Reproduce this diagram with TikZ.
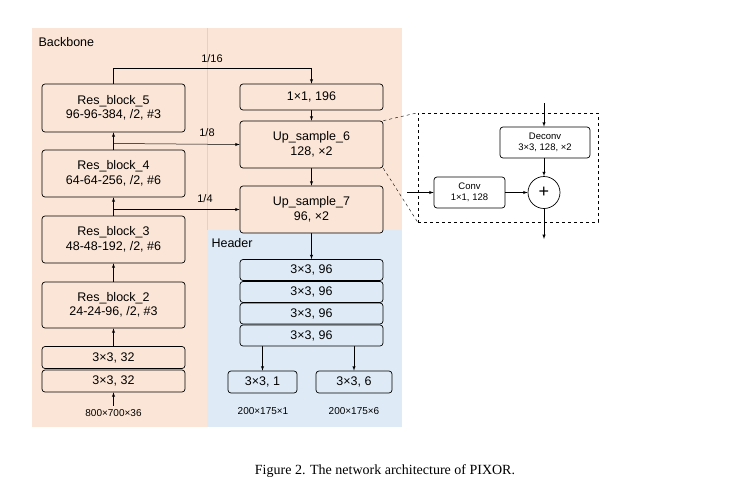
\documentclass[tikz,border=0pt]{standalone}
\usepackage{fontspec}
\setmainfont{Liberation Sans}
\newfontfamily\capfont{Liberation Serif}
\pgfdeclarelayer{bg}
\pgfsetlayers{bg,main}
\begin{document}
\begin{tikzpicture}[x=1pt,y=-1pt,
 blk/.style={draw,rounded corners=3pt,line width=0.7pt,align=center,inner sep=0pt,font=\fontsize{12.5}{14.5}\selectfont},
 blko/.style={blk,fill={rgb,255:red,251;green,229;blue,214}},
 blkb/.style={blk,fill={rgb,255:red,222;green,235;blue,247}},
 sblk/.style={draw,fill=white,rounded corners=3pt,line width=0.7pt,align=center,inner sep=0pt,font=\fontsize{9.5}{11.5}\selectfont},
 arr/.style={-latex,line width=0.5pt},
 lbl/.style={font=\fontsize{11}{12}\selectfont,inner sep=1pt}]
\useasboundingbox (0,0) rectangle (756,488);
\begin{pgfonlayer}{bg}
\fill[fill={rgb,255:red,251;green,229;blue,214}] (32,28) rectangle (402,427);
\fill[fill={rgb,255:red,222;green,235;blue,247}] (207,230) rectangle (402,427);
\draw[orange!40,line width=0.3pt] (207,28) -- (207,230);
\end{pgfonlayer}
\node[anchor=west,font=\fontsize{12.5}{13}\selectfont] (bb) at (35,42) {Backbone};
\node[anchor=west,font=\fontsize{12.5}{13}\selectfont] (hd) at (208,243) {Header};
% left column
\node[blko,minimum width=143pt,minimum height=48pt] (r5) at (113.5,108) {Res\_block\_5\\96-96-384, /2, \#3};
\node[blko,minimum width=143pt,minimum height=47pt] (r4) at (113.5,173.5) {Res\_block\_4\\64-64-256, /2, \#6};
\node[blko,minimum width=143pt,minimum height=47pt] (r3) at (113.5,239.5) {Res\_block\_3\\48-48-192, /2, \#6};
\node[blko,minimum width=143pt,minimum height=46pt] (r2) at (113.5,305) {Res\_block\_2\\24-24-96, /2, \#3};
\node[blko,minimum width=143pt,minimum height=22pt] (c2) at (113.5,357.5) {3×3, 32};
\node[blko,minimum width=143pt,minimum height=22pt] (c1) at (113.5,381) {3×3, 32};
\node[font=\fontsize{10}{11}\selectfont] (in) at (113.5,413) {800×700×36};
% right column
\node[blko,minimum width=143pt,minimum height=26pt] (p1) at (311.5,97) {1×1, 196};
\node[blko,minimum width=143pt,minimum height=47pt] (u6) at (311.5,144.5) {Up\_sample\_6\\128, ×2};
\node[blko,minimum width=143pt,minimum height=47pt] (u7) at (311.5,209.5) {Up\_sample\_7\\96, ×2};
\node[blkb,minimum width=143pt,minimum height=21pt] (h1) at (311.5,270) {3×3, 96};
\node[blkb,minimum width=143pt,minimum height=21pt] (h2) at (311.5,292) {3×3, 96};
\node[blkb,minimum width=143pt,minimum height=21pt] (h3) at (311.5,313.5) {3×3, 96};
\node[blkb,minimum width=143pt,minimum height=21pt] (h4) at (311.5,335.5) {3×3, 96};
\node[blkb,minimum width=69pt,minimum height=22pt] (o1) at (262.5,382) {3×3, 1};
\node[blkb,minimum width=76pt,minimum height=22pt] (o2) at (354,382) {3×3, 6};
\node[font=\fontsize{10}{11}\selectfont] (t1) at (263,411) {200×175×1};
\node[font=\fontsize{10}{11}\selectfont] (t2) at (354,411) {200×175×6};
\begin{pgfonlayer}{bg}
\draw[arr] (in.north) -- (c1.south);
\draw[arr] (c2.north) -- (r2.south);
\draw[arr] (r2.north) -- (r3.south);
\draw[arr] (r3.north) -- (r4.south);
\draw[arr] (r4.north) -- (r5.south);
\draw[arr] (r5.north) -- (113.5,68) -| (p1.north);
\draw[arr] (113.5,143.5) -- (u6.west);
\draw[arr] (113.5,209.5) -- (u7.west);
\draw[arr] (p1.south) -- (u6.north);
\draw[arr] (u6.south) -- (u7.north);
\draw[arr] (u7.south) -- (h1.north);
\draw[arr] (h4.south -| o1.north) -- (o1.north);
\draw[arr] (h4.south -| o2.north) -- (o2.north);
\end{pgfonlayer}
\node[lbl] (l16) at (212,59) {1/16};
\node[lbl] (l8) at (207,133) {1/8};
\node[lbl] (l4) at (205,199) {1/4};
% inset
\node[draw,dashed,line width=0.5pt,minimum width=180pt,minimum height=109pt,inner sep=0pt] (ins) at (508,167.5) {};
\draw[dashed,line width=0.4pt] (u6.north east) -- (ins.north west);
\draw[dashed,line width=0.4pt] (u6.south east) -- (ins.south west);
\node[sblk,minimum width=71pt,minimum height=31pt] (cv) at (469.5,192.5) {Conv\\1×1, 128};
\node[sblk,minimum width=90pt,minimum height=31pt] (dc) at (545,142.5) {Deconv\\3×3, 128, ×2};
\node[draw,fill=white,circle,minimum size=32pt,inner sep=0pt,line width=0.7pt,font=\fontsize{18}{18}\selectfont] (pl) at (544,192.5) {+};
\coordinate (ci) at (407,192.5);
\coordinate (ct) at (544,103);
\coordinate (cb) at (544,239);
\draw[arr] (ci) -- (cv.west);
\draw[arr] (cv.east) -- (pl.west);
\draw[arr] (dc.south -| pl.north) -- (pl.north);
\draw[arr] (ct) -- (ct |- dc.north);
\draw[arr] (pl.south) -- (cb);
\node[font=\capfont\fontsize{14}{16}\selectfont] (cap) at (385,471) {Figure 2. The network architecture of PIXOR.};
\end{tikzpicture}
\end{document}
